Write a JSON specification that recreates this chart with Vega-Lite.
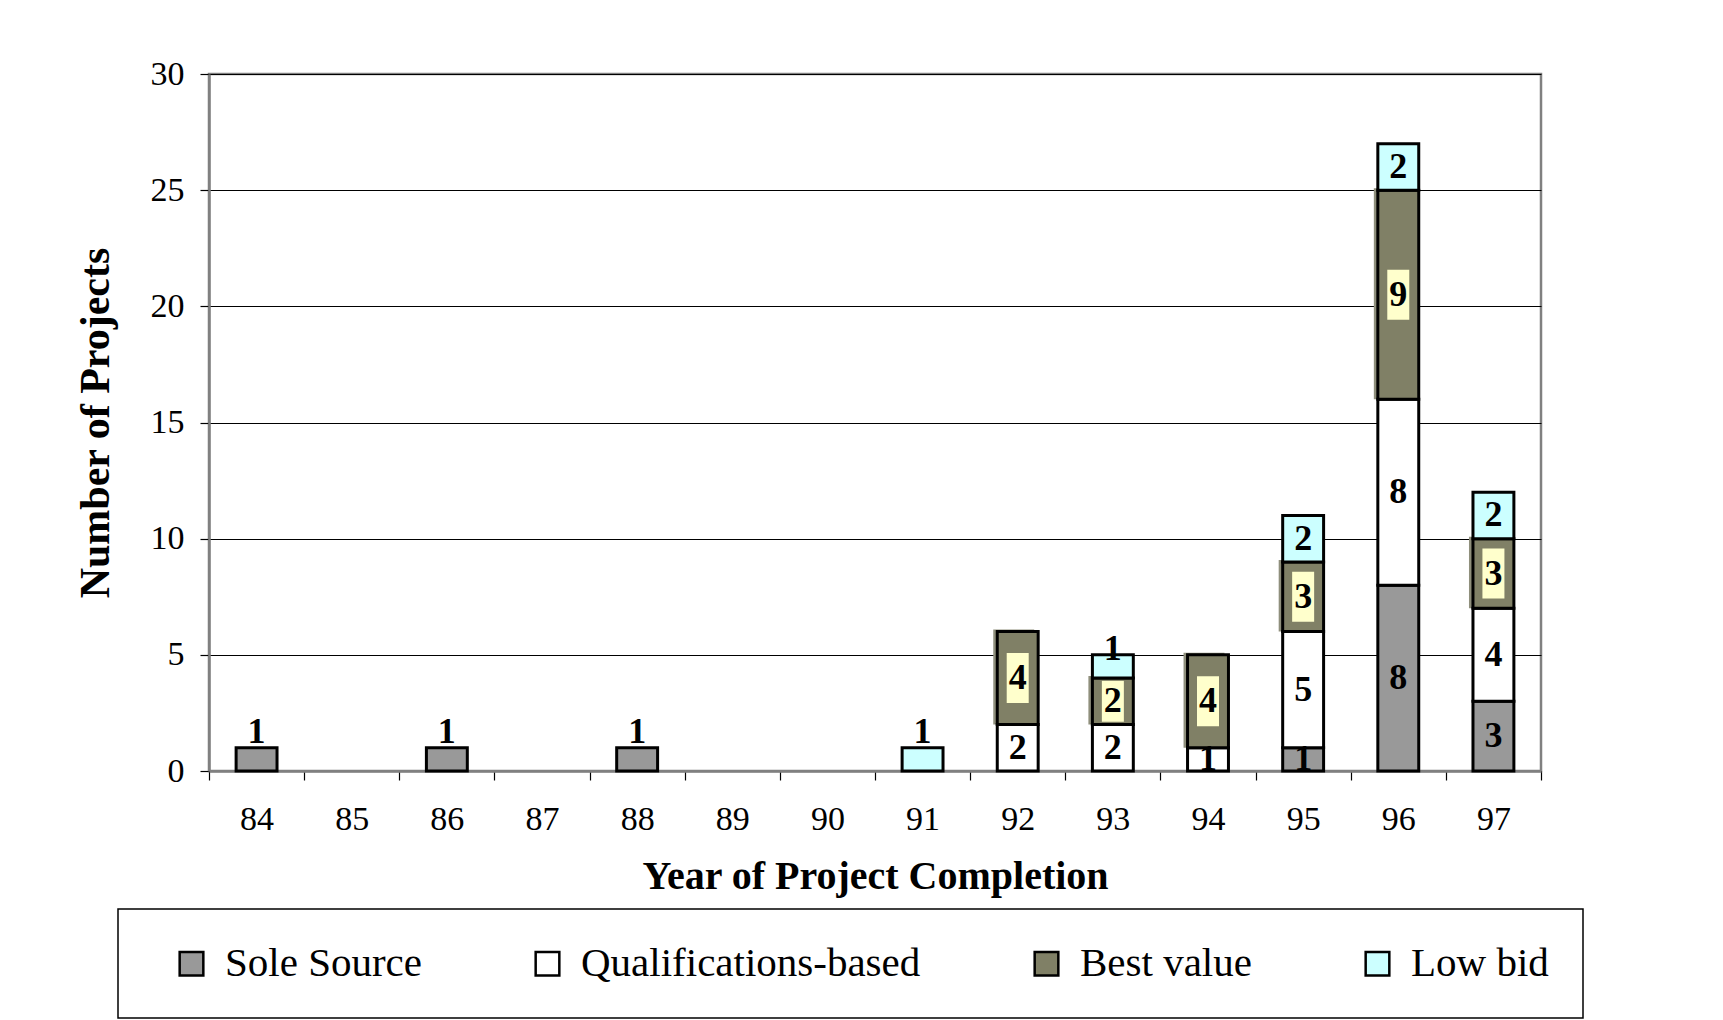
{
  "$schema": "https://vega.github.io/schema/vega-lite/v6.json",
  "width": 1332,
  "height": 697,
  "autosize": {"type": "none"},
  "padding": {"left": 209, "top": 74, "right": 182, "bottom": 249},
  "background": "white",
  "data": {
    "values": [
      {"year": "84", "type": "Sole Source", "count": 1},
      {"year": "86", "type": "Sole Source", "count": 1},
      {"year": "88", "type": "Sole Source", "count": 1},
      {"year": "91", "type": "Low bid", "count": 1},
      {"year": "92", "type": "Qualifications-based", "count": 2},
      {"year": "92", "type": "Best value", "count": 4},
      {"year": "93", "type": "Qualifications-based", "count": 2},
      {"year": "93", "type": "Best value", "count": 2},
      {"year": "93", "type": "Low bid", "count": 1},
      {"year": "94", "type": "Qualifications-based", "count": 1},
      {"year": "94", "type": "Best value", "count": 4},
      {"year": "95", "type": "Sole Source", "count": 1},
      {"year": "95", "type": "Qualifications-based", "count": 5},
      {"year": "95", "type": "Best value", "count": 3},
      {"year": "95", "type": "Low bid", "count": 2},
      {"year": "96", "type": "Sole Source", "count": 8},
      {"year": "96", "type": "Qualifications-based", "count": 8},
      {"year": "96", "type": "Best value", "count": 9},
      {"year": "96", "type": "Low bid", "count": 2},
      {"year": "97", "type": "Sole Source", "count": 3},
      {"year": "97", "type": "Qualifications-based", "count": 4},
      {"year": "97", "type": "Best value", "count": 3},
      {"year": "97", "type": "Low bid", "count": 2}
    ]
  },
  "transform": [
    {"calculate": "indexof(['Sole Source','Qualifications-based','Best value','Low bid'], datum.type)", "as": "k"},
    {"stack": "count", "groupby": ["year"], "sort": [{"field": "k", "order": "ascending"}], "as": ["y0", "y1"]},
    {"calculate": "(datum.y0 + datum.y1) / 2", "as": "mid"},
    {"calculate": "min(1.075, (datum.y1 - datum.y0) / 2 - 0.12)", "as": "bh"},
    {"calculate": "datum.mid - datum.bh", "as": "b0"},
    {"calculate": "datum.mid + datum.bh", "as": "b1"},
    {"joinaggregate": [{"op": "sum", "field": "count", "as": "total"}], "groupby": ["year"]},
    {"calculate": "datum.count == 1 && datum.y1 == datum.total && datum.total > 1 ? datum.y1 + 0.25 : datum.mid", "as": "ly"}
  ],
  "encoding": {
    "x": {
      "field": "year",
      "type": "nominal",
      "title": "Year of Project Completion",
      "scale": {
        "domain": ["84","85","86","87","88","89","90","91","92","93","94","95","96","97"],
        "paddingInner": 0,
        "paddingOuter": 0
      },
      "axis": {
        "labelAngle": 0,
        "labelFontSize": 34,
        "labelPadding": 22,
        "tickBand": "extent",
        "grid": false,
        "titleFontSize": 40,
        "titlePadding": 20
      }
    }
  },
  "layer": [
    {
      "transform": [{"filter": "datum.type == 'Best value'"}],
      "mark": {"type": "bar", "width": {"band": 0.43}, "xOffset": -4, "yOffset": -2, "fill": "#8f8f7c", "stroke": null},
      "encoding": {
        "y": {"field": "y1", "type": "quantitative"},
        "y2": {"field": "y0"}
      }
    },
    {
      "mark": {"type": "bar", "width": {"band": 0.43}, "stroke": "black", "strokeWidth": 3},
      "encoding": {
        "y": {
          "field": "y1",
          "type": "quantitative",
          "title": "Number of Projects",
          "scale": {"domain": [0, 30], "nice": false},
          "axis": {
            "values": [0, 5, 10, 15, 20, 25, 30],
            "grid": true,
            "gridColor": "black",
            "gridWidth": 1.2,
            "labelFontSize": 34,
            "labelPadding": 16,
            "titleFontSize": 42,
            "titlePadding": 33
          }
        },
        "y2": {"field": "y0"},
        "fill": {
          "field": "type",
          "type": "nominal",
          "scale": {
            "domain": ["Sole Source", "Qualifications-based", "Best value", "Low bid"],
            "range": ["#999999", "#ffffff", "#808066", "#ccffff"]
          },
          "legend": {
            "title": null,
            "orient": "none",
            "legendX": -91,
            "legendY": 835,
            "direction": "horizontal",
            "columns": 4
          }
        }
      }
    },
    {
      "transform": [{"filter": "datum.type == 'Best value'"}],
      "mark": {"type": "bar", "width": 22, "fill": "#ffffcc", "stroke": null},
      "encoding": {
        "y": {"field": "b1", "type": "quantitative"},
        "y2": {"field": "b0"}
      }
    },
    {
      "transform": [{"filter": "datum.total > 1"}],
      "mark": {"type": "text", "fontSize": 36, "fontWeight": "bold", "baseline": "middle", "color": "black"},
      "encoding": {
        "y": {"field": "ly", "type": "quantitative"},
        "text": {"field": "count", "type": "quantitative"}
      }
    },
    {
      "transform": [{"filter": "datum.total == 1"}],
      "mark": {"type": "text", "fontSize": 36, "fontWeight": "bold", "baseline": "alphabetic", "dy": -5, "color": "black"},
      "encoding": {
        "y": {"field": "y1", "type": "quantitative"},
        "text": {"field": "count", "type": "quantitative"}
      }
    }
  ],
  "config": {
    "font": "Liberation Serif",
    "view": {"stroke": "#808080", "strokeWidth": 2.5},
    "axis": {
      "labelColor": "black",
      "titleColor": "black",
      "titleFontWeight": "bold",
      "tickColor": "black",
      "tickSize": 9,
      "tickWidth": 1.2,
      "domainColor": "#808080",
      "domainWidth": 2.5
    },
    "legend": {
      "symbolType": "square",
      "symbolSize": 560,
      "symbolStrokeColor": "black",
      "symbolStrokeWidth": 2.5,
      "labelFontSize": 41,
      "labelColor": "black",
      "labelLimit": 600,
      "labelOffset": 13,
      "columnPadding": 86,
      "symbolOffset": 19,
      "padding": 34,
      "strokeColor": "black",
      "strokeWidth": 1.5
    }
  }
}
